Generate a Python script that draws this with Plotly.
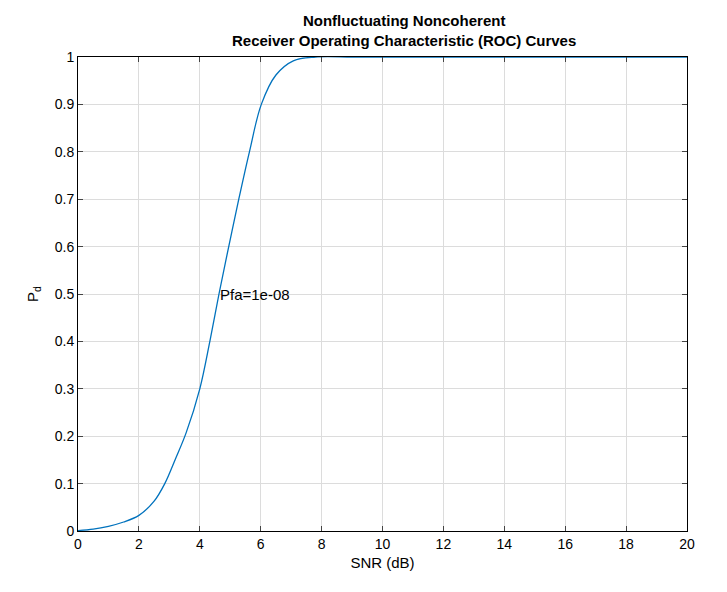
import plotly.graph_objects as go

snr = [0, 0.5, 1, 1.5, 2, 2.5, 2.85, 3.2, 3.55, 4, 4.33, 4.63, 4.95, 5.28, 5.63, 6.02, 6.5, 7.07, 7.8, 9, 10, 12, 14, 16, 18, 20]
pd_vals = [0.001, 0.004, 0.01, 0.019, 0.033, 0.063, 0.1, 0.152, 0.207, 0.3, 0.4, 0.5, 0.6, 0.7, 0.8, 0.9, 0.962, 0.992, 1, 1, 1, 1, 1, 1, 1, 1]
xticks = list(range(0, 21, 2))
yticks = [round(i * 0.1, 1) for i in range(11)]

fig = go.Figure()
fig.add_trace(go.Scatter(x=snr, y=pd_vals, mode="lines",
                         line=dict(color="#0072BD", width=1.3, shape="spline", smoothing=1.0), showlegend=False))
fig.add_annotation(x=4.6, y=0.5, text="Pfa=1e-08", showarrow=False, xanchor="left", font=dict(size=15, color="black"))
fig.add_annotation(xref="paper", yref="paper", x=0.535, y=1.0, yshift=6, xanchor="center", yanchor="bottom",
                   showarrow=False, font=dict(size=15, color="black"),
                   text="<b>Nonfluctuating Noncoherent<br>Receiver Operating Characteristic (ROC) Curves</b>")

ax = dict(showline=True, linecolor="black", linewidth=1, mirror="ticks", ticks="inside", ticklen=5,
          gridcolor="#dcdcdc", zeroline=False, tickfont=dict(size=14, color="black"))
fig.update_layout(
    width=727, height=592, plot_bgcolor="white", paper_bgcolor="white",
    font=dict(family="Liberation Sans, Arial", color="black", size=14),
    margin=dict(l=70, r=48, t=49, b=69),
    xaxis=dict(ax, range=[0, 20], tickvals=xticks, title=dict(text="SNR (dB)", font=dict(size=15), standoff=6)),
    yaxis=dict(ax, range=[0, 1], tickvals=yticks, ticktext=[("%g" % v) for v in yticks],
               title=dict(text="P<sub>d</sub>", font=dict(size=15), standoff=12)),
)
fig.write_html("out.html")
